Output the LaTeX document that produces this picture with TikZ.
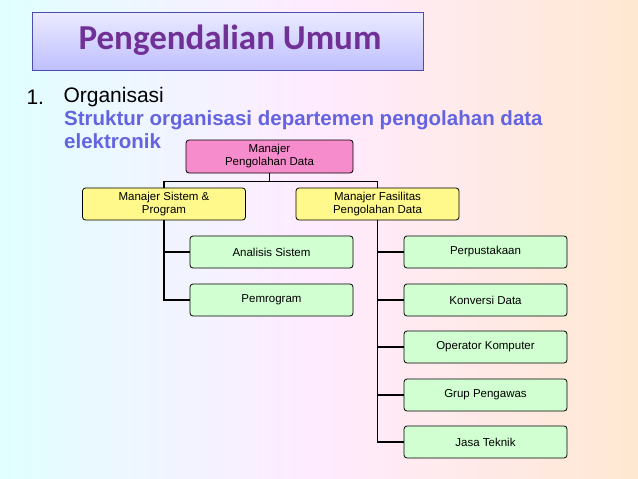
\documentclass[tikz,border=0pt]{standalone}
\usepackage{fontspec}
\setmainfont{Liberation Sans}
\newfontfamily\titlefont{Carlito}
\definecolor{subblue}{RGB}{100,100,225}
\definecolor{titlepurple}{RGB}{112,48,150}
\begin{document}
\begin{tikzpicture}[x=1pt,y=-1pt,
  box/.style={draw=black,line width=0.8pt,rounded corners=3pt,minimum width=163pt,minimum height=32pt,font=\fontsize{11.5}{13}\selectfont,align=center,inner sep=1pt},
  mgr/.style={box,fill=yellow!45},
  leaf/.style={box,fill=green!18},
  conn/.style={line width=1.2pt}]
\shade[left color=cyan!12,right color=orange!18,middle color=magenta!8] (0,0) rectangle (638,479);
\useasboundingbox (0,0) rectangle (638,479);
\node[draw=blue!40!gray,top color=blue!8,bottom color=blue!25,minimum width=391pt,minimum height=58pt,inner sep=0pt] (title) at (227.5,41) {};
\node[text=titlepurple,font=\titlefont\bfseries\fontsize{35}{38}\selectfont] (tt) at (230,40) {Pengendalian Umum};
\node[anchor=west,font=\fontsize{21}{24}\selectfont] (n1) at (23,97) {1.};
\node[anchor=west,font=\fontsize{21}{24}\selectfont] (org) at (60,97) {Organisasi};
\node[anchor=north west,align=left,text=subblue,font=\bfseries\fontsize{20.5}{23}\selectfont,inner sep=0pt] (sub) at (64,110) {Struktur organisasi departemen pengolahan data\\elektronik};
\node[box,fill=magenta!45,minimum width=167pt,minimum height=33pt] (top) at (269.5,156.5) {Manajer\\Pengolahan Data};
\node[mgr] (ml) at (164,204) {Manajer Sistem \&\\Program};
\node[mgr] (mr) at (377.5,204) {Manajer Fasilitas\\Pengolahan Data};
\node[leaf] (a1) at (271.5,252) {Analisis Sistem};
\node[leaf] (a2) at (271.5,300) {Pemrogram};
\node[leaf] (b1) at (485.5,252) {Perpustakaan};
\node[leaf] (b2) at (485.5,300) {Konversi Data};
\node[leaf] (b3) at (485.5,347) {Operator Komputer};
\node[leaf] (b4) at (485.5,395) {Grup Pengawas};
\node[leaf] (b5) at (485.5,442) {Jasa Teknik};
\draw[conn] (top.south) -- ++(0,8) -| (ml.north);
\draw[conn] (top.south) ++(0,8) -| (mr.north);
\draw[conn] (ml.south) |- (a1.west);
\draw[conn] (ml.south) |- (a2.west);
\foreach \b in {b1,b2,b3,b4,b5} \draw[conn] (mr.south) |- (\b.west);
\end{tikzpicture}
\end{document}
